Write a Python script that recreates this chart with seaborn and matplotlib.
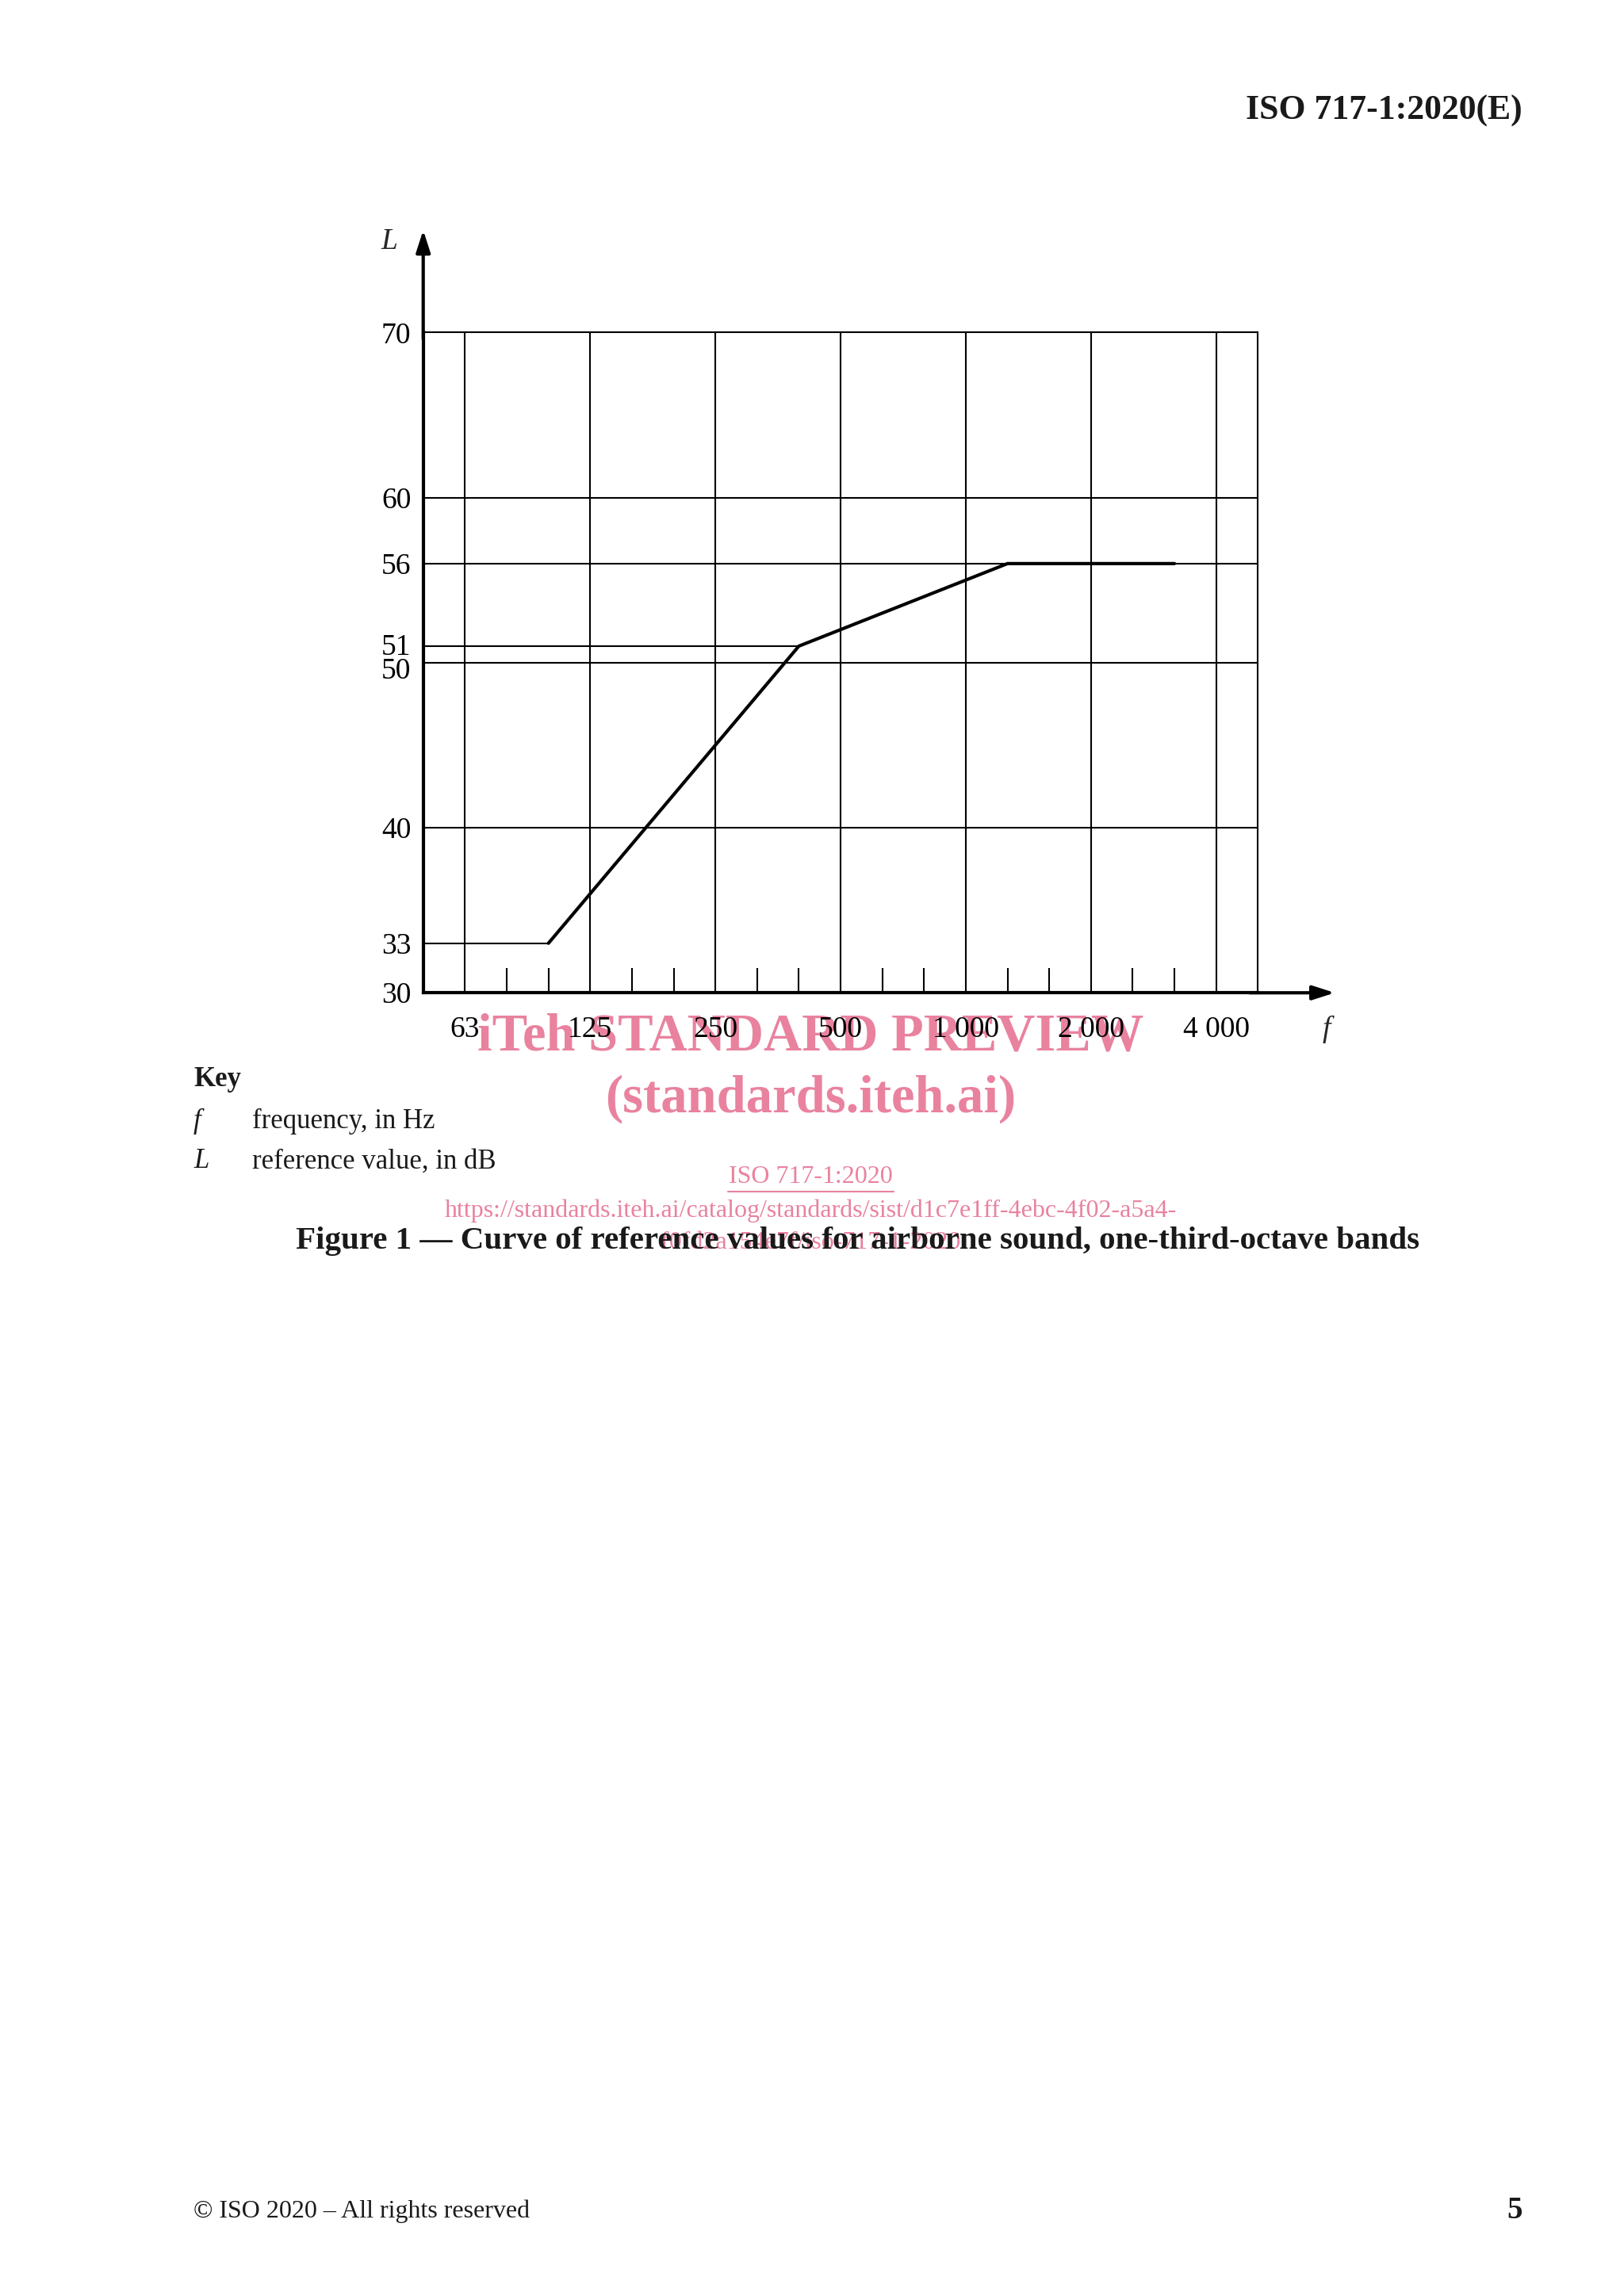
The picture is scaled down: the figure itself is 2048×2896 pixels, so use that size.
import numpy as np
import pandas as pd
import matplotlib
matplotlib.use("Agg")
import matplotlib.pyplot as plt
import matplotlib.transforms as mtransforms
import seaborn as sns

# ==========================================
# 1. data (ISO 717-1 reference curve, one-third-octave bands)
# ==========================================
bands = [50, 63, 80, 100, 125, 160, 200, 250, 315, 400, 500, 630,
         800, 1000, 1250, 1600, 2000, 2500, 3150, 4000, 5000]
curve_bands = [100, 125, 160, 200, 250, 315, 400, 500, 630, 800,
               1000, 1250, 1600, 2000, 2500, 3150]
curve_values = [33, 36, 39, 42, 45, 48, 51, 52, 53, 54, 55, 56, 56, 56, 56, 56]

octave_bands = [63, 125, 250, 500, 1000, 2000, 4000]
octave_labels = ["63", "125", "250", "500", "1 000", "2 000", "4 000"]
y_ticks = [30, 33, 40, 50, 51, 56, 60, 70]
y_grid = [40, 50, 56, 60]
# partial reference lines: (level, band where the line stops)
partial_lines = [(33, 100), (51, 400)]

PINK = "#e9829f"
INK = "#1a1a1a"

# ==========================================
# 2. figure
# ==========================================
sns.set_theme(style="white")
plt.rcParams['font.family'] = ['Liberation Serif', 'DejaVu Serif']

fig = plt.figure(figsize=(20.48, 28.96), dpi=100, facecolor="white")
ax = fig.add_axes([0.2606, 0.5676, 0.5140, 0.2876])

pos = {f: i for i, f in enumerate(bands)}
df = pd.DataFrame({"x": [pos[f] for f in curve_bands], "L": curve_values})

ax.set_xlim(0, len(bands) - 1)
ax.set_ylim(30, 70)

# grid
for f in octave_bands:
    ax.axvline(pos[f], color="black", lw=1.5, zorder=1)
for y in y_grid:
    ax.axhline(y, color="black", lw=1.5, zorder=1)
for y, f in partial_lines:
    ax.hlines(y, 0, pos[f], color="black", lw=1.5, zorder=1)

sns.lineplot(data=df, x="x", y="L", color="black", lw=3, ax=ax, zorder=3)

# spines
for s in ["top", "right"]:
    ax.spines[s].set_linewidth(1.5)
    ax.spines[s].set_color("black")
for s in ["left", "bottom"]:
    ax.spines[s].set_linewidth(3)
    ax.spines[s].set_color("black")

# arrows on axes
ax.annotate("", xy=(1.092, 0), xytext=(0.99, 0), xycoords="axes fraction",
            arrowprops=dict(arrowstyle="-|>,head_length=1.4,head_width=0.45",
                            color="black", lw=3, shrinkA=0, shrinkB=0),
            annotation_clip=False)
ax.annotate("", xy=(0, 1.155), xytext=(0, 0.99), xycoords="axes fraction",
            arrowprops=dict(arrowstyle="-|>,head_length=1.4,head_width=0.45",
                            color="black", lw=3, shrinkA=0, shrinkB=0),
            annotation_clip=False)

# ticks
ax.set_xticks([pos[f] for f in octave_bands])
ax.set_xticklabels(octave_labels)
ax.set_xticks([pos[f] for f in bands[1:-1] if f not in octave_bands], minor=True)
ax.tick_params(axis="x", which="major", length=0, pad=21, labelsize=27, colors="black")
ax.tick_params(axis="x", which="minor", bottom=True, direction="in", length=22,
               width=1.5, color="black")
ax.set_yticks(y_ticks)
ax.set_yticklabels([str(v) for v in y_ticks])
ax.tick_params(axis="y", which="major", length=0, pad=11, labelsize=27, colors="black")
ax.grid(False)
ax.set_xlabel("")
ax.set_ylabel("")

# nudge "50" label down so it does not collide with "51"
for lab in ax.get_yticklabels():
    if lab.get_text() == "50":
        lab.set_transform(lab.get_transform() +
                          mtransforms.ScaledTranslation(0, -0.07, fig.dpi_scale_trans))
    if lab.get_text() == "51":
        lab.set_transform(lab.get_transform() +
                          mtransforms.ScaledTranslation(0, 0.02, fig.dpi_scale_trans))

# axis symbols
fig.text(491 / 2048, 1 - 305 / 2896, "L", fontsize=27, style="italic", ha="center", va="center")
fig.text(1673 / 2048, 1 - 1298 / 2896, "f", fontsize=27, style="italic", ha="center", va="center")

# ==========================================
# 3. page text
# ==========================================
fig.text(1920 / 2048, 1 - 140 / 2896, "ISO 717-1:2020(E)", fontsize=31.5, weight="bold",
         ha="right", va="center", color=INK)

fig.text(244 / 2048, 1 - 1362 / 2896, "Key", fontsize=25, weight="bold", ha="left", va="center", color=INK)
fig.text(244 / 2048, 1 - 1414 / 2896, "f", fontsize=25, style="italic", ha="left", va="center", color=INK)
fig.text(318 / 2048, 1 - 1414 / 2896, "frequency, in Hz", fontsize=25, ha="left", va="center", color=INK)
fig.text(244 / 2048, 1 - 1465 / 2896, "L", fontsize=25, style="italic", ha="left", va="center", color=INK)
fig.text(318 / 2048, 1 - 1465 / 2896, "reference value, in dB", fontsize=25, ha="left", va="center", color=INK)

# watermark (behind the axes text)
fig.text(1022 / 2048, 1 - 1308 / 2896, "iTeh STANDARD PREVIEW", fontsize=48, weight="bold",
         ha="center", va="center", color=PINK, zorder=-1)
fig.text(1022 / 2048, 1 - 1386 / 2896, "(standards.iteh.ai)", fontsize=48, weight="bold",
         ha="center", va="center", color=PINK, zorder=-1)
fig.text(1022 / 2048, 1 - 1485 / 2896, "ISO 717-1:2020", fontsize=23,
         ha="center", va="center", color=PINK, zorder=-1)
fig.add_artist(plt.Line2D([918 / 2048, 1127 / 2048], [1 - 1503 / 2896, 1 - 1503 / 2896],
                          color=PINK, lw=1.5, zorder=-1))
fig.text(1022 / 2048, 1 - 1527 / 2896,
         "https://standards.iteh.ai/catalog/standards/sist/d1c7e1ff-4ebc-4f02-a5a4-",
         fontsize=23, ha="center", va="center", color=PINK, zorder=-1)
fig.text(1022 / 2048, 1 - 1568 / 2896, "f0fd2a154e7f/iso-717-1-2020",
         fontsize=23, ha="center", va="center", color=PINK, zorder=-1)

fig.text(1082 / 2048, 1 - 1566 / 2896,
         "Figure 1 \u2014 Curve of reference values for airborne sound, one-third-octave bands",
         fontsize=29.5, weight="bold", ha="center", va="center", color=INK, zorder=6)

# footer
fig.text(244 / 2048, 1 - 2789 / 2896, "\u00a9 ISO 2020 \u2013 All rights reserved", fontsize=23,
         ha="left", va="center", color=INK)
fig.text(1920 / 2048, 1 - 2789 / 2896, "5", fontsize=28, weight="bold",
         ha="right", va="center", color=INK)

fig.savefig("out.png", dpi=100, facecolor="white")
plt.close(fig)
